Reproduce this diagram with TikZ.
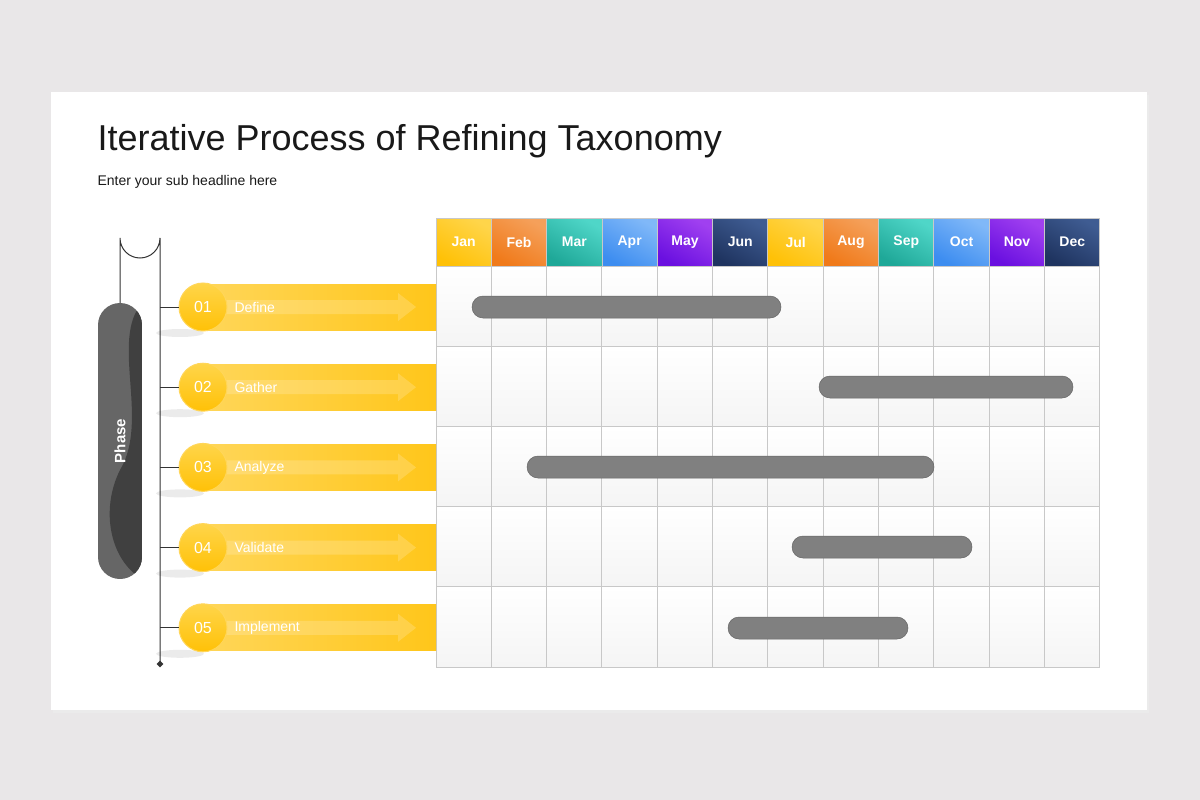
\documentclass[tikz,border=0pt]{standalone}
\usepackage{fontspec}
\setmainfont{Liberation Sans}
\usetikzlibrary{shapes.geometric}
\definecolor{bgc}{HTML}{E9E7E8}
\definecolor{ylw}{HTML}{FFC61A}
\definecolor{ylwl}{HTML}{FFD659}
\definecolor{barc}{HTML}{808080}
\definecolor{gridc}{HTML}{C8C8C8}
\definecolor{c1a}{HTML}{FFD54A}\definecolor{c1b}{HTML}{FFC107}
\definecolor{c2a}{HTML}{F5A05A}\definecolor{c2b}{HTML}{F07A1A}
\definecolor{c3a}{HTML}{4FD6C8}\definecolor{c3b}{HTML}{1FA898}
\definecolor{c4a}{HTML}{80B8F8}\definecolor{c4b}{HTML}{3D8DF0}
\definecolor{c5a}{HTML}{A040F0}\definecolor{c5b}{HTML}{6A10E0}
\definecolor{c6a}{HTML}{3F5C92}\definecolor{c6b}{HTML}{1F3460}
\tikzset{
  month/.style={draw=gridc,line width=1pt,minimum width=55.33pt,minimum height=48pt,inner sep=0pt,text=white,font=\bfseries\fontsize{14}{14}\selectfont},
  cell/.style={draw=gridc,line width=1pt,top color=white,bottom color=black!4},
  ganttbar/.style={fill=barc,draw=barc!80!black,line width=0.5pt,rounded corners=11pt},
  numc/.style={circle,minimum size=48pt,inner sep=0pt,top color=c1a,bottom color=c1b,draw=ylwl,line width=1pt,text=white,font=\fontsize{16}{16}\selectfont},
  lbl/.style={anchor=west,text=white,font=\fontsize{14}{14}\selectfont},
  band/.style={left color=ylwl,right color=ylw},
  wire/.style={draw=black!80,line width=1pt}
}
\begin{document}
\begin{tikzpicture}[x=1pt,y=-1pt]
\useasboundingbox (0,0) rectangle (1200,800);
\fill[bgc] (0,0) rectangle (1200,800);
\fill[black!8] (53,95) rectangle (1149,713);
\fill[white] (51,92) rectangle (1147,710);
\node[anchor=west,font=\fontsize{36}{36}\selectfont,text=black!90] (title) at (94,141) {Iterative Process of Refining Taxonomy};
\node[anchor=west,font=\fontsize{14}{14}\selectfont,text=black!90] (sub) at (94,182) {Enter your sub headline here};
% grid
\foreach \r in {0,...,4}{
  \foreach \c in {0,...,11}{
    \path[cell] ({436+\c*55.33},{266+\r*80.2}) rectangle ++(55.33,80.2);
  }
}
\foreach \m/\k [count=\i from 0] in {Jan/1,Feb/2,Mar/3,Apr/4,May/5,Jun/6,Jul/1,Aug/2,Sep/3,Oct/4,Nov/5,Dec/6}{
  \node[month,top color=c\k a,bottom color=c\k b,shading angle=-30] (m\i) at ({436+27.67+\i*55.33},242) {\m};
}
% bars
\path[ganttbar] (472,296) rectangle (781,318);
\path[ganttbar] (819,376) rectangle (1073,398);
\path[ganttbar] (527,456) rectangle (934,478);
\path[ganttbar] (792,536) rectangle (972,558);
\path[ganttbar] (728,617) rectangle (908,639);
% timeline
\coordinate (lt) at (120,303);
\coordinate (rb) at (160,664);
\draw[wire] (lt) -- (120,238) arc[start angle=180,end angle=0,radius=20] -- (rb);
\node[diamond,fill=black!80,minimum size=7pt,inner sep=0pt] (dm) at (rb) {};
% pill
\begin{scope}
\clip[rounded corners=22pt] (98,303) rectangle (142,579);
\fill[black!60] (98,303) rectangle (142,579);
\fill[black!75] (142,303) .. controls (110,340) and (150,420) .. (120,470) .. controls (100,510) and (110,560) .. (142,579) -- cycle;
\end{scope}
\node[rotate=90,text=white,font=\bfseries\fontsize{15}{15}\selectfont] (ph) at (120,441) {Phase};
% steps
\foreach \n/\t [count=\i from 0] in {01/Define,02/Gather,03/Analyze,04/Validate,05/Implement}{
  \pgfmathsetmacro{\yy}{307+\i*80.2}
  \path[band] (203,\yy-23) rectangle (436,\yy+23);
  \fill[white,opacity=0.18] (215,\yy-7) -- (398,\yy-7) -- (398,\yy-14) -- (416,\yy) -- (398,\yy+14) -- (398,\yy+7) -- (215,\yy+7) -- cycle;
  \fill[black,opacity=0.08] (180,\yy+26) ellipse (24 and 4);
  \node[numc] (c\i) at (203,\yy) {\n};
  \draw[wire] (160,\yy) -- (c\i.west);
  \node[lbl] (l\i) at (231,\yy) {\t};
}
\end{tikzpicture}
\end{document}
